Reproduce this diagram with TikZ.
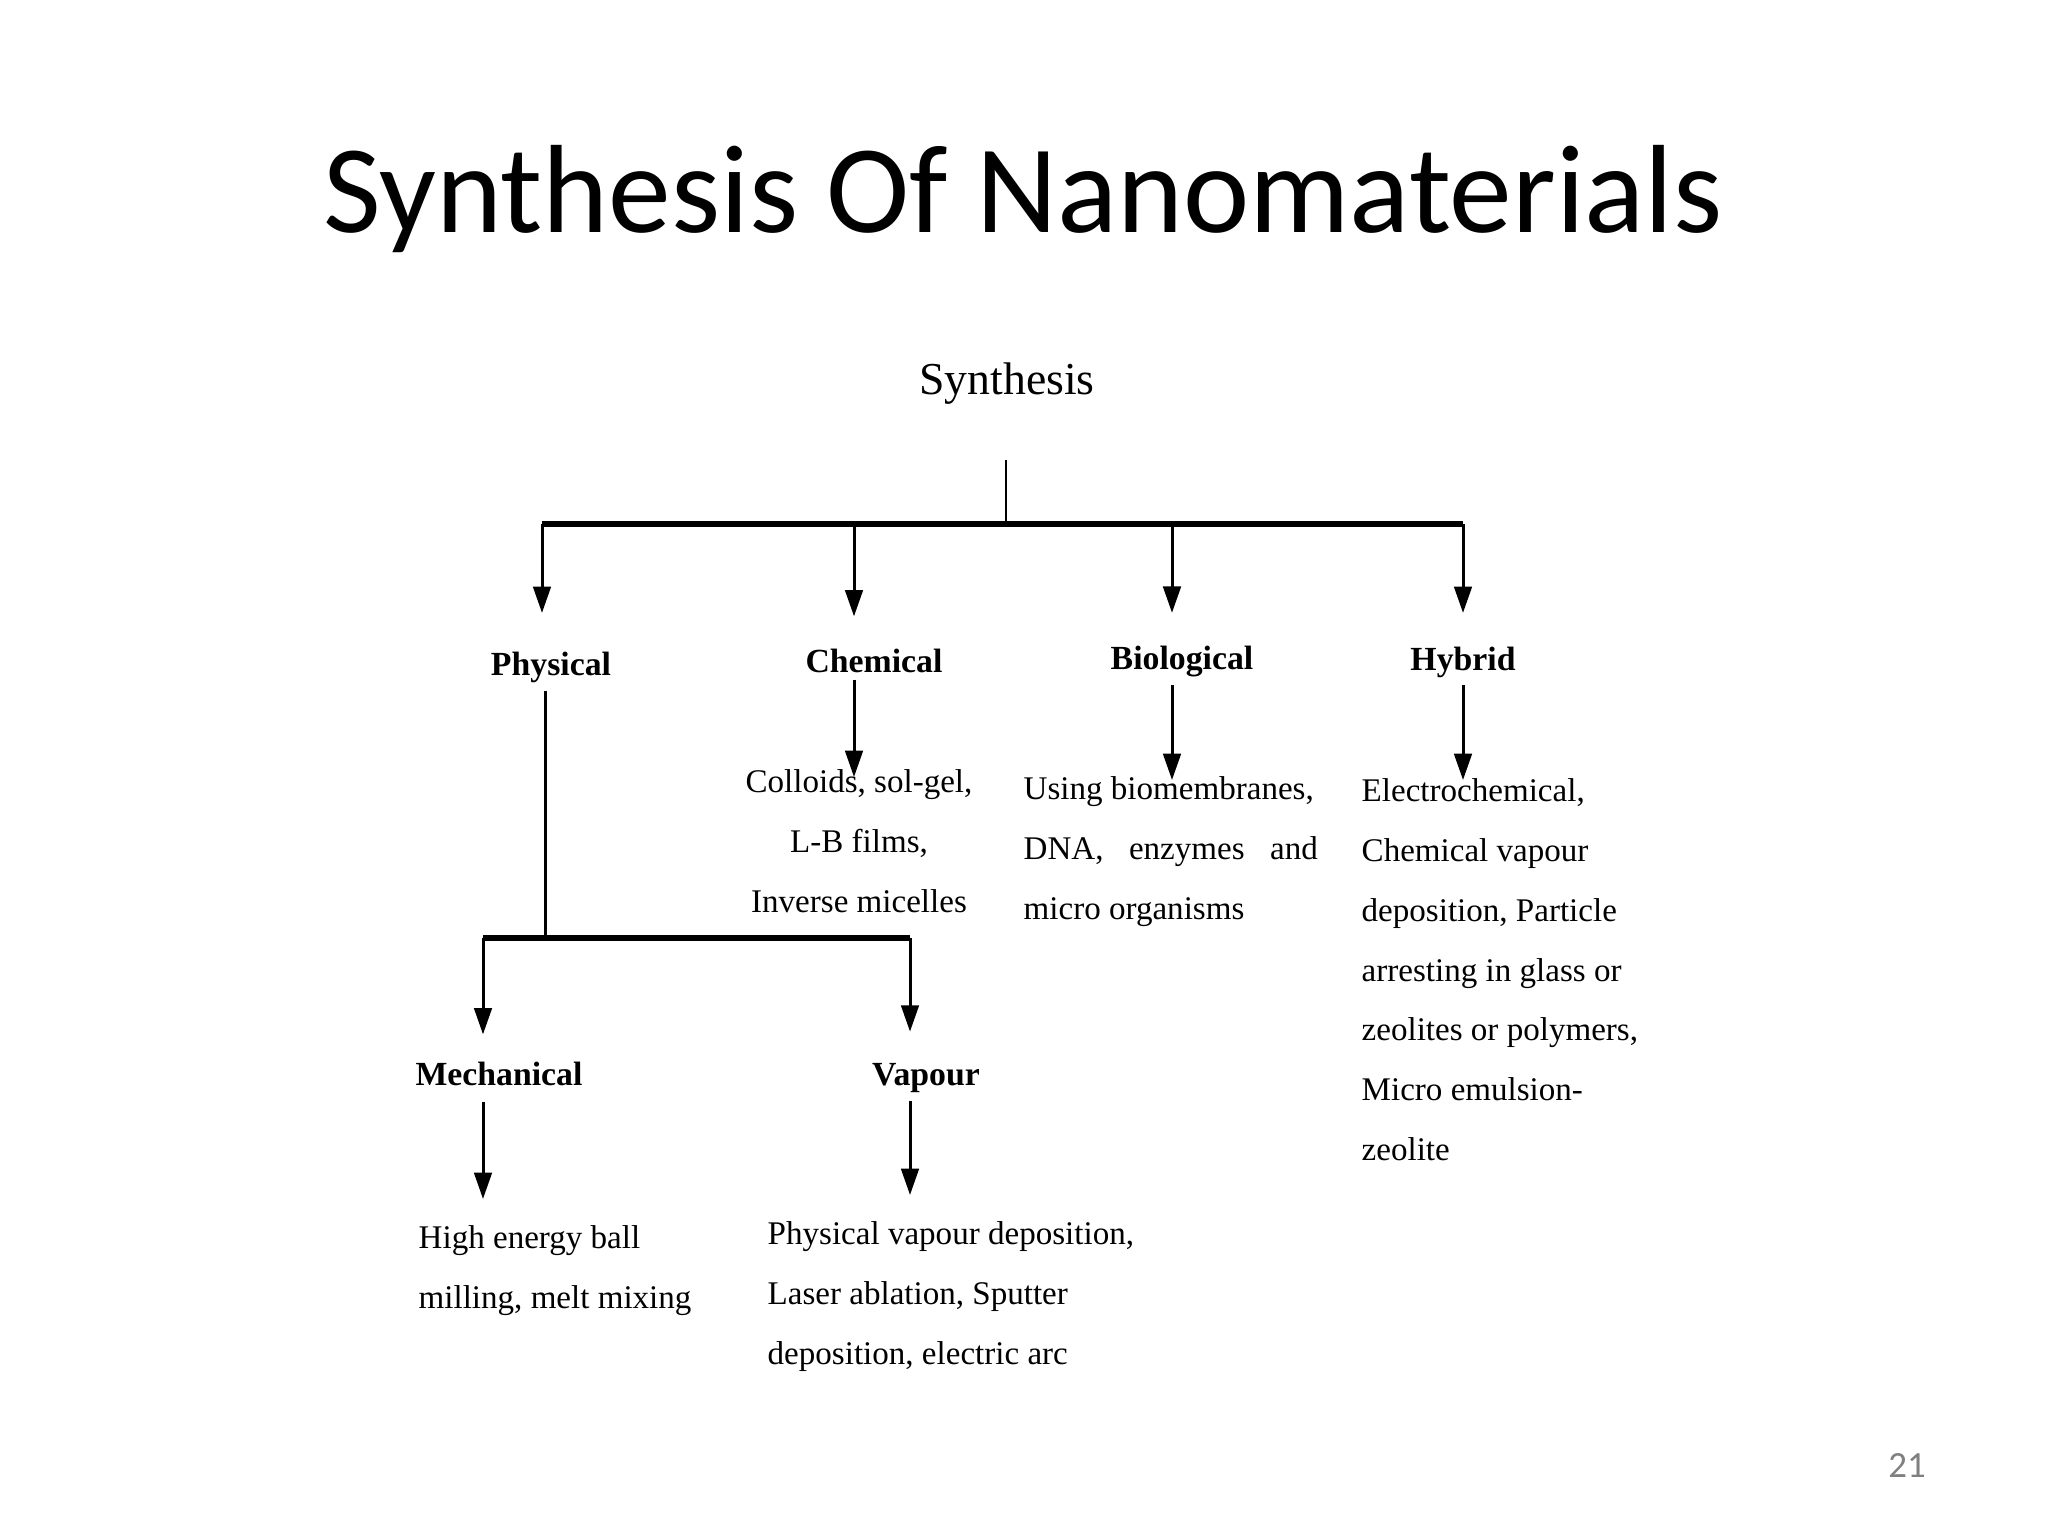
\documentclass[tikz,border=0pt]{standalone}
\usepackage{fontspec}
\setmainfont{Liberation Serif}
\newfontfamily\slidefont{Carlito}
\usetikzlibrary{arrows.meta}

\tikzset{
  bar/.style={line width=1.6pt},
  arr/.style={line width=0.85pt, -{Triangle[width=5pt,length=7.5pt]}},
  kind/.style={font=\fontsize{9.6}{11}\selectfont\bfseries, inner sep=0pt},
  detail/.style={font=\fontsize{9.4}{17}\selectfont, inner sep=0pt, align=left}
}

\begin{document}
\begin{tikzpicture}[x=0.01cm, y=-0.01cm]
	\useasboundingbox (0,0) rectangle (2048,1536);

	\node (title) at (1023,199) {\slidefont\fontsize{35.7}{40}\selectfont Synthesis Of Nanomaterials};
	\node (synth) [font=\fontsize{13}{15}\selectfont, inner sep=0pt] at (1007,384) {Synthesis};

	\node (phys) [kind] at (551,667) {Physical};
	\node (chem) [kind] at (874,661) {Chemical};
	\node (bio) [kind] at (1182,662) {Biological};
	\node (hyb) [kind] at (1463,662) {Hybrid};
	\node (mech) [kind] at (499,1074) {Mechanical};
	\node (vap) [kind] at (926,1078) {Vapour};

	\node (chemtxt) [detail, align=center, anchor=north] at (859,769) {Colloids, sol-gel,\\L-B films,\\Inverse micelles};
	\node (biotxt) [detail, anchor=north west] at (1023,776) {Using biomembranes,\\\makebox[2.94cm][s]{DNA, enzymes and}\\micro organisms};
	\node (hybtxt) [detail, anchor=north west] at (1361,778) {Electrochemical,\\Chemical vapour\\deposition, Particle\\arresting in glass or\\zeolites or polymers,\\Micro emulsion-\\zeolite};
	\node (mechtxt) [detail, anchor=north west] at (418,1225) {High energy ball\\milling, melt mixing};
	\node (vaptxt) [detail, anchor=north west] at (767,1221) {Physical vapour deposition,\\Laser ablation, Sputter\\deposition, electric arc};

	\node (pagenum) [font=\slidefont\fontsize{10.5}{12}\selectfont, text=black!50] at (1907,1465) {21};

	\coordinate (top) at (1006,460);
	\coordinate (j0) at (1006,524);
	\coordinate (b1) at (542,524);
	\coordinate (b2) at (854,524);
	\coordinate (b3) at (1172,524);
	\coordinate (b4) at (1463,524);
	\coordinate (p0) at (545,938);
	\coordinate (s1) at (483,938);
	\coordinate (s2) at (910,938);

	\draw[line width=0.7pt] (top) -- (j0);
	\draw[bar] (b1) -- (b4);
	\draw[arr, shorten >=0.38cm] (b1) -- (b1 |- phys.north);
	\draw[arr, shorten >=0.32cm] (b2) -- (b2 |- chem.north);
	\draw[arr, shorten >=0.33cm] (b3) -- (b3 |- bio.north);
	\draw[arr, shorten >=0.33cm] (b4) -- (b4 |- hyb.north);

	\draw[line width=0.85pt, shorten <=0.08cm] (phys.south -| p0) -- (p0);
	\draw[bar] (s1) -- (s2);
	\draw[arr, shorten >=0.27cm] (s1) -- (s1 |- mech.north);
	\draw[arr, shorten >=0.31cm] (s2) -- (s2 |- vap.north);

	\draw[arr, shorten <=0.06cm, shorten >=-0.08cm] (chem.south -| b2) -- (b2 |- chemtxt.north);
	\draw[arr, shorten <=0.07cm, shorten >=-0.04cm] (bio.south -| b3) -- (b3 |- biotxt.north);
	\draw[arr, shorten <=0.07cm, shorten >=-0.02cm] (hyb.south -| b4) -- (b4 |- hybtxt.north);
	\draw[arr, shorten <=0.15cm, shorten >=0.26cm] (mech.south -| s1) -- (s1 |- mechtxt.north);
	\draw[arr, shorten <=0.08cm, shorten >=0.26cm] (vap.south -| s2) -- (s2 |- vaptxt.north);
\end{tikzpicture}
\end{document}
